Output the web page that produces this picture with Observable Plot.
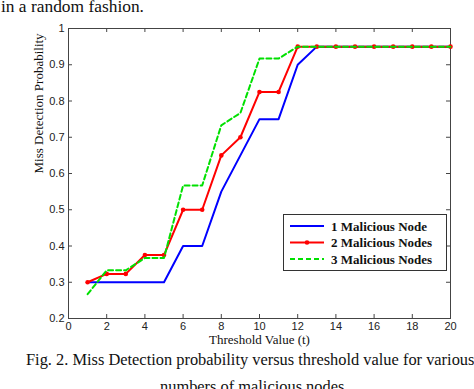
<!DOCTYPE html>
<html>
<head>
<meta charset="utf-8">
<script src="https://cdn.jsdelivr.net/npm/d3@7"></script>
<script src="https://cdn.jsdelivr.net/npm/@observablehq/plot@0.6"></script>
<style>
  html, body { margin: 0; padding: 0; background: #fff; }
  #wrap { position: relative; width: 474px; height: 389px; overflow: hidden; background: #fff; }
  #chart { position: absolute; left: 0; top: 0; }
  .txt { position: absolute; font-family: "Liberation Serif", "Times New Roman", serif; color: #111; white-space: nowrap; line-height: 1; }
</style>
</head>
<body>
<div id="wrap">
  <div id="chart"></div>
  <div class="txt" id="top" style="left:1px; top:-2.5px; font-size:17.4px;">in a random fashion.</div>
  <div class="txt" id="cap1" style="left:26px; top:352px; font-size:16.4px;">Fig. 2. Miss Detection probability versus threshold value for various</div>
  <div class="txt" id="cap2" style="left:160px; top:379px; font-size:16.4px;">numbers of malicious nodes</div>
</div>
<script>
const thresholds = [1,2,3,4,5,6,7,8,9,10,11,12,13,14,15,16,17,18,19,20];
const oneNode   = [0.30,0.30,0.30,0.30,0.30,0.40,0.40,0.55,0.65,0.75,0.75,0.90,0.95,0.95,0.95,0.95,0.95,0.95,0.95,0.95];
const twoNodes  = [0.30,0.323,0.323,0.375,0.375,0.50,0.50,0.65,0.70,0.825,0.825,0.95,0.95,0.95,0.95,0.95,0.95,0.95,0.95,0.95];
const threeNodes= [0.267,0.333,0.333,0.367,0.367,0.567,0.567,0.733,0.767,0.917,0.917,0.95,0.95,0.95,0.95,0.95,0.95,0.95,0.95,0.95];
const seriesNames = ["1 Malicious Node", "2 Malicious Nodes", "3 Malicious Nodes"];
const xTicks = [0,2,4,6,8,10,12,14,16,18,20];
const yTicks = [0.2,0.3,0.4,0.5,0.6,0.7,0.8,0.9,1];
const xLabel = "Threshold Value (t)";
const yLabel = "Miss Detection Probability";

const toRows = (vals) => thresholds.map((t, i) => ({t, v: vals[i]}));
const s1 = toRows(oneNode), s2 = toRows(twoNodes), s3 = toRows(threeNodes);

const W = 474, H = 350, mT = 28, mB = 32, mL = 68, mR = 24;
const fw = W - mL - mR, fh = H - mT - mB;
const tickLen = 4;
const sans = "Liberation Sans, Arial, sans-serif";
const serif = "Liberation Serif, Times New Roman, serif";
const colors = ["#0000ff", "#ff0000", "#00e000"];

const plot = Plot.plot({
  width: W, height: H,
  marginTop: mT, marginBottom: mB, marginLeft: mL, marginRight: mR,
  style: {background: "transparent", color: "#222"},
  x: {domain: [0, 20], axis: null},
  y: {domain: [0.2, 1], axis: null},
  marks: [
    Plot.frame({stroke: "#444", strokeWidth: 1}),
    Plot.tickX(xTicks, {x: d => d, insetTop: fh - tickLen, stroke: "#444"}),
    Plot.tickX(xTicks, {x: d => d, insetBottom: fh - tickLen, stroke: "#444"}),
    Plot.tickY(yTicks, {y: d => d, insetRight: fw - tickLen, stroke: "#444"}),
    Plot.tickY(yTicks, {y: d => d, insetLeft: fw - tickLen, stroke: "#444"}),
    Plot.axisX(xTicks, {tickSize: 0, tickPadding: 4, label: null, fontSize: 11, fontFamily: sans, tickFormat: d => String(d)}),
    Plot.axisY(yTicks, {tickSize: 0, tickPadding: 4, label: null, fontSize: 11, fontFamily: sans, tickFormat: d => d === 1 ? "1" : d3.format(".1f")(d)}),
    Plot.text([xLabel], {frameAnchor: "bottom", dy: 25, fontFamily: serif, fontSize: 13, fill: "#111"}),
    Plot.text([yLabel], {frameAnchor: "left", dx: -30, rotate: -90, fontFamily: serif, fontSize: 13, fill: "#111"}),
    Plot.line(s1, {x: "t", y: "v", stroke: colors[0], strokeWidth: 2}),
    Plot.line(s2, {x: "t", y: "v", stroke: colors[1], strokeWidth: 2}),
    Plot.dot(s2, {x: "t", y: "v", r: 2.3, fill: colors[1], stroke: "none"}),
    Plot.line(s3, {x: "t", y: "v", stroke: colors[2], strokeWidth: 2, strokeDasharray: "5,3"}),
    Plot.frame({insetLeft: 215, insetRight: 4, insetTop: 186, insetBottom: 48, fill: "white", stroke: "#333", strokeWidth: 1})
  ]
});
document.getElementById("chart").appendChild(plot);

// Legend contents drawn in the legend box
const svg = d3.select(plot);
const xs = plot.scale("x"), ys = plot.scale("y");
const boxLeft = xs.range[0] + 215, boxTop = ys.range[1] + 186;
const g = svg.append("g").attr("text-anchor", "start");
seriesNames.forEach((name, i) => {
  const cy = boxTop + 12 + i * 16.5;
  const x1 = boxLeft + 7, x2 = boxLeft + 41;
  const line = g.append("line").attr("x1", x1).attr("x2", x2).attr("y1", cy).attr("y2", cy)
    .attr("stroke", colors[i]).attr("stroke-width", 2);
  if (i === 2) line.attr("stroke-dasharray", "5,3");
  if (i === 1) g.append("circle").attr("cx", (x1 + x2) / 2).attr("cy", cy).attr("r", 2.3).attr("fill", colors[1]);
  g.append("text").attr("x", boxLeft + 48).attr("y", cy).attr("dy", "0.35em")
    .attr("text-anchor", "start")
    .attr("font-family", serif).attr("font-weight", "bold").attr("font-size", 13).attr("fill", "#111")
    .text(name);
});
</script>
</body>
</html>
